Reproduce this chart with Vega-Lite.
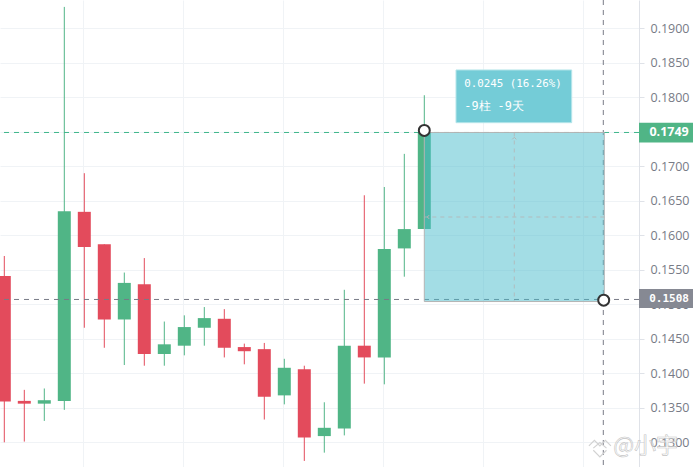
{
  "$schema": "https://vega.github.io/schema/vega-lite/v6.json",
  "width": 639,
  "height": 467,
  "autosize": "none",
  "padding": {"left": 0, "top": 0, "right": 54, "bottom": 0},
  "background": "#ffffff",
  "config": {"view": {"stroke": null}},
  "datasets": {
    "candles": [
      {"bar": 0, "open": 0.1541, "close": 0.1359, "high": 0.1570, "low": 0.1300, "dir": "down"},
      {"bar": 1, "open": 0.1360, "close": 0.1356, "high": 0.1376, "low": 0.1301, "dir": "down"},
      {"bar": 2, "open": 0.1356, "close": 0.1361, "high": 0.1378, "low": 0.1331, "dir": "up"},
      {"bar": 3, "open": 0.1360, "close": 0.1635, "high": 0.1931, "low": 0.1347, "dir": "up"},
      {"bar": 4, "open": 0.1634, "close": 0.1583, "high": 0.1690, "low": 0.1466, "dir": "down"},
      {"bar": 5, "open": 0.1587, "close": 0.1478, "high": 0.1587, "low": 0.1437, "dir": "down"},
      {"bar": 6, "open": 0.1478, "close": 0.1531, "high": 0.1546, "low": 0.1412, "dir": "up"},
      {"bar": 7, "open": 0.1529, "close": 0.1428, "high": 0.1567, "low": 0.1411, "dir": "down"},
      {"bar": 8, "open": 0.1428, "close": 0.1442, "high": 0.1475, "low": 0.1411, "dir": "up"},
      {"bar": 9, "open": 0.1440, "close": 0.1467, "high": 0.1484, "low": 0.1426, "dir": "up"},
      {"bar": 10, "open": 0.1466, "close": 0.1480, "high": 0.1496, "low": 0.1440, "dir": "up"},
      {"bar": 11, "open": 0.1479, "close": 0.1437, "high": 0.1493, "low": 0.1423, "dir": "down"},
      {"bar": 12, "open": 0.1438, "close": 0.1432, "high": 0.1443, "low": 0.1413, "dir": "down"},
      {"bar": 13, "open": 0.1435, "close": 0.1366, "high": 0.1444, "low": 0.1333, "dir": "down"},
      {"bar": 14, "open": 0.1368, "close": 0.1408, "high": 0.1421, "low": 0.1355, "dir": "up"},
      {"bar": 15, "open": 0.1406, "close": 0.1307, "high": 0.1411, "low": 0.1273, "dir": "down"},
      {"bar": 16, "open": 0.1309, "close": 0.1321, "high": 0.1358, "low": 0.1285, "dir": "up"},
      {"bar": 17, "open": 0.1320, "close": 0.1440, "high": 0.1521, "low": 0.1310, "dir": "up"},
      {"bar": 18, "open": 0.1440, "close": 0.1423, "high": 0.1658, "low": 0.1385, "dir": "down"},
      {"bar": 19, "open": 0.1423, "close": 0.1580, "high": 0.1670, "low": 0.1384, "dir": "up"},
      {"bar": 20, "open": 0.1581, "close": 0.1609, "high": 0.1718, "low": 0.1540, "dir": "up"},
      {"bar": 21, "open": 0.1609, "close": 0.1749, "high": 0.1803, "low": 0.1609, "dir": "up"}
    ]
  },
  "layer": [
    {
      "data": {"name": "candles"},
      "mark": {"type": "rule", "size": 1, "clip": true},
      "encoding": {
        "x": {
          "field": "bar",
          "type": "quantitative",
          "scale": {"domain": [-0.215, 31.735], "nice": false, "zero": false, "padding": 0},
          "axis": {
            "title": null,
            "orient": "bottom",
            "values": [3.95, 8.95, 13.95, 18.95, 23.95, 28.95],
            "labels": false,
            "ticks": false,
            "domain": false,
            "grid": true,
            "gridColor": "#f0f3f6",
            "gridWidth": 1
          }
        },
        "y": {
          "field": "low",
          "type": "quantitative",
          "scale": {"domain": [0.12642, 0.1941], "nice": false, "zero": false},
          "axis": {
            "title": null,
            "orient": "right",
            "tickCount": 13,
            "format": ".4f",
            "grid": true,
            "gridColor": "#f0f3f6",
            "gridWidth": 1,
            "domain": true,
            "domainColor": "#dfe2e8",
            "tickColor": "#dfe2e8",
            "tickSize": 5,
            "labelPadding": 6,
            "labelOverlap": false,
            "labelColor": "#787b86",
            "labelFont": "Open Sans",
            "labelFontSize": 12.5
          }
        },
        "y2": {"field": "high"},
        "color": {
          "field": "dir",
          "type": "nominal",
          "scale": {"domain": ["up", "down"], "range": ["#50b586", "#e34b5c"]},
          "legend": null
        }
      }
    },
    {
      "data": {"name": "candles"},
      "mark": {"type": "bar", "size": 13, "clip": true},
      "encoding": {
        "x": {"field": "bar", "type": "quantitative"},
        "y": {"field": "open", "type": "quantitative"},
        "y2": {"field": "close"},
        "color": {"field": "dir", "type": "nominal", "legend": null}
      }
    },
    {
      "data": {"values": [{"price": 0.1749}]},
      "mark": {"type": "rule", "color": "#3fb68b", "strokeDash": [5, 5], "size": 1},
      "encoding": {"y": {"field": "price", "type": "quantitative"}}
    },
    {
      "data": {"values": [{"price": 0.1507}]},
      "mark": {"type": "rule", "color": "#787b86", "strokeDash": [5, 5], "size": 1},
      "encoding": {"y": {"field": "price", "type": "quantitative"}}
    },
    {
      "data": {"values": [{"bar": 29.95}]},
      "mark": {"type": "rule", "color": "#787b86", "strokeDash": [5, 5], "size": 1},
      "encoding": {"x": {"field": "bar", "type": "quantitative"}}
    },
    {
      "data": {"values": [{"from": 21, "to": 30, "top": 0.1749, "bottom": 0.1504}]},
      "mark": {"type": "rect", "fill": "#47bbcb", "fillOpacity": 0.5, "stroke": "#b4b4b4", "strokeWidth": 1},
      "encoding": {
        "x": {"field": "from", "type": "quantitative"},
        "x2": {"field": "to"},
        "y": {"field": "top", "type": "quantitative"},
        "y2": {"field": "bottom"}
      }
    },
    {
      "data": {"values": [{"bar": 25.5, "price": 0.1749, "price2": 0.1504}]},
      "mark": {"type": "rule", "color": "#b4b4b4", "strokeDash": [4, 4], "size": 1, "opacity": 0.8},
      "encoding": {
        "x": {"field": "bar", "type": "quantitative"},
        "y": {"field": "price", "type": "quantitative"},
        "y2": {"field": "price2"}
      }
    },
    {
      "data": {"values": [{"from": 21, "to": 30, "price": 0.16265}]},
      "mark": {"type": "rule", "color": "#b4b4b4", "strokeDash": [4, 4], "size": 1, "opacity": 0.8},
      "encoding": {
        "x": {"field": "from", "type": "quantitative"},
        "x2": {"field": "to"},
        "y": {"field": "price", "type": "quantitative"}
      }
    },
    {
      "data": {"values": [{"bar": 25.5, "price": 0.1742, "arrow": "M-1,1L0,0L1,1"}, {"bar": 21.15, "price": 0.16265, "arrow": "M1,-1L0,0L1,1"}]},
      "mark": {"type": "point", "stroke": "#b4b4b4", "strokeWidth": 1, "size": 16, "filled": false, "opacity": 1},
      "encoding": {
        "x": {"field": "bar", "type": "quantitative"},
        "y": {"field": "price", "type": "quantitative"},
        "shape": {"field": "arrow", "type": "nominal", "scale": null}
      }
    },
    {
      "data": {"values": [{"bar": 21, "price": 0.1752}, {"bar": 29.97, "price": 0.1506}]},
      "mark": {"type": "point", "fill": "#ffffff", "stroke": "#333333", "strokeWidth": 2, "size": 120, "filled": false, "opacity": 1, "fillOpacity": 1},
      "encoding": {
        "x": {"field": "bar", "type": "quantitative"},
        "y": {"field": "price", "type": "quantitative"}
      }
    },
    {
      "data": {"values": [{"from": 22.585, "to": 28.37, "top": 0.18396, "bottom": 0.17632}]},
      "mark": {"type": "rect", "fill": "#74ccd7", "stroke": "#b5e5ea", "strokeWidth": 1},
      "encoding": {
        "x": {"field": "from", "type": "quantitative"},
        "x2": {"field": "to"},
        "y": {"field": "top", "type": "quantitative"},
        "y2": {"field": "bottom"}
      }
    },
    {
      "data": {"values": [{"bar": 23, "price": 0.18195, "label": "0.0245 (16.26%)"}]},
      "mark": {"type": "text", "align": "left", "baseline": "middle", "color": "#ffffff", "font": "DejaVu Sans Mono", "fontSize": 10.8},
      "encoding": {
        "x": {"field": "bar", "type": "quantitative"},
        "y": {"field": "price", "type": "quantitative"},
        "text": {"field": "label"}
      }
    },
    {
      "data": {"values": [{"bar": 23, "price": 0.1787, "label": "-9柱 -9天"}]},
      "mark": {"type": "text", "align": "left", "baseline": "middle", "color": "#ffffff", "font": "DejaVu Sans Mono", "fontSize": 11.8},
      "encoding": {
        "x": {"field": "bar", "type": "quantitative"},
        "y": {"field": "price", "type": "quantitative"},
        "text": {"field": "label"}
      }
    },
    {
      "data": {"values": [
        {"from": 31.735, "to": 34.44, "top": 0.17632, "bottom": 0.17345, "tag": "last"},
        {"from": 31.735, "to": 34.44, "top": 0.1522, "bottom": 0.14945, "tag": "cross"}
      ]},
      "mark": {"type": "rect", "clip": false},
      "encoding": {
        "x": {"field": "from", "type": "quantitative"},
        "x2": {"field": "to"},
        "y": {"field": "top", "type": "quantitative"},
        "y2": {"field": "bottom"},
        "fill": {
          "field": "tag",
          "type": "nominal",
          "scale": {"domain": ["last", "cross"], "range": ["#50b586", "#868993"]},
          "legend": null
        }
      }
    },
    {
      "data": {"values": [{"bar": 33.24, "price": 0.1749, "label": "0.1749"}]},
      "mark": {"type": "text", "align": "center", "baseline": "middle", "color": "#ffffff", "font": "Open Sans", "fontWeight": "bold", "fontSize": 12.5},
      "encoding": {
        "x": {"field": "bar", "type": "quantitative"},
        "y": {"field": "price", "type": "quantitative"},
        "text": {"field": "label"}
      }
    },
    {
      "data": {"values": [{"bar": 33.24, "price": 0.1507, "label": "0.1508"}]},
      "mark": {"type": "text", "align": "center", "baseline": "middle", "color": "#ffffff", "font": "DejaVu Sans Mono", "fontWeight": "bold", "fontSize": 11},
      "encoding": {
        "x": {"field": "bar", "type": "quantitative"},
        "y": {"field": "price", "type": "quantitative"},
        "text": {"field": "label"}
      }
    },
    {
      "data": {"values": [{"bar": 29.78, "price": 0.12932, "logo": "M-1,-0.1L-0.5,-0.6L0,-0.1L0.5,-0.6L1,-0.1M-0.6,0.1L0,-0.4L0.6,0.1M-0.6,0.3L0,0.9L0.6,0.3"}]},
      "mark": {"type": "point", "stroke": "#d2d2d2", "strokeWidth": 1.2, "size": 484, "filled": false, "opacity": 1},
      "encoding": {
        "x": {"field": "bar", "type": "quantitative"},
        "y": {"field": "price", "type": "quantitative"},
        "shape": {"field": "logo", "type": "nominal", "scale": null}
      }
    },
    {
      "data": {"values": [{"bar": 30.45, "price": 0.1294, "label": "@小宇"}]},
      "mark": {"type": "text", "align": "left", "baseline": "middle", "font": "Noto Sans CJK SC", "fontSize": 22, "fill": "#ffffff", "fillOpacity": 0.45, "stroke": "#c4c4c4", "strokeWidth": 0.6, "clip": false},
      "encoding": {
        "x": {"field": "bar", "type": "quantitative"},
        "y": {"field": "price", "type": "quantitative"},
        "text": {"field": "label"}
      }
    }
  ]
}
